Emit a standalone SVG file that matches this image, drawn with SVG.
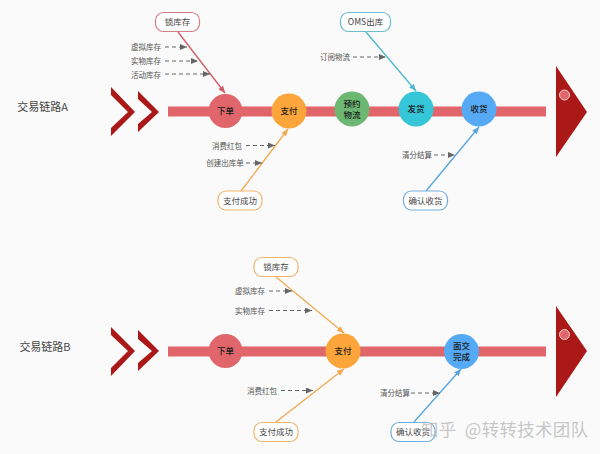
<svg xmlns="http://www.w3.org/2000/svg" width="600" height="454" viewBox="0 0 600 454">
<style>
text{font-family:"Noto Sans CJK SC","Liberation Sans",sans-serif;fill:#444;text-anchor:middle}
.t{font-size:8.500px;fill:#1a1a1a;font-weight:500}
.s{font-size:7.500px;fill:#555}
.b{font-size:8.500px;fill:#444}
.h{font-size:11px;fill:#444}
.box{fill:#fff;stroke-width:1.2}
.dash{stroke:#666;stroke-width:1;stroke-dasharray:4 3;fill:none;marker-end:url(#g)}
.c{fill:none;stroke-width:1.3}
.dark{fill:#ab1818}
.spine{fill:#e0666b}
</style>
<defs>
<marker id="g" markerUnits="userSpaceOnUse" markerWidth="8" markerHeight="6" refX="7" refY="3" orient="auto"><path d="M0 0L7 3L0 6z" fill="#666"/></marker>
<marker id="mr" markerUnits="userSpaceOnUse" markerWidth="8" markerHeight="6" refX="7" refY="3" orient="auto"><path d="M0 0L7 3L0 6z" fill="#cf5a62"/></marker>
<marker id="mo" markerUnits="userSpaceOnUse" markerWidth="8" markerHeight="6" refX="7" refY="3" orient="auto"><path d="M0 0L7 3L0 6z" fill="#f2a94e"/></marker>
<marker id="mc" markerUnits="userSpaceOnUse" markerWidth="8" markerHeight="6" refX="7" refY="3" orient="auto"><path d="M0 0L7 3L0 6z" fill="#4db8d0"/></marker>
<marker id="mb" markerUnits="userSpaceOnUse" markerWidth="8" markerHeight="6" refX="7" refY="3" orient="auto"><path d="M0 0L7 3L0 6z" fill="#55a5e0"/></marker>
</defs>
<rect width="600" height="454" fill="#fafafa"/>
<g id="spines">
<rect class="spine" x="168" y="106.500" width="378" height="10"/>
<rect class="spine" x="168" y="346.500" width="378" height="10"/>
</g>
<g id="connectors">
<path class="c" stroke="#cf5a62" marker-end="url(#mr)" d="M178 32L225 93"/>
<path class="c" stroke="#f2a94e" marker-end="url(#mo)" d="M241 191L288 129"/>
<path class="c" stroke="#4db8d0" marker-end="url(#mc)" d="M366 32L416 91"/>
<path class="c" stroke="#55a5e0" marker-end="url(#mb)" d="M426 191L479 127"/>
<path class="c" stroke="#f2a94e" marker-end="url(#mo)" d="M276 277L344 333"/>
<path class="c" stroke="#f2a94e" marker-end="url(#mo)" d="M276 422L344 369"/>
<path class="c" stroke="#55a5e0" marker-end="url(#mb)" d="M414 422L461 369"/>
<path class="dash" d="M165 47H187"/>
<path class="dash" d="M165 61H198"/>
<path class="dash" d="M165 74H210"/>
<path class="dash" d="M246 145.500H275"/>
<path class="dash" d="M246 163H262"/>
<path class="dash" d="M353 57H386"/>
<path class="dash" d="M434 155H455"/>
<path class="dash" d="M269 291H292"/>
<path class="dash" d="M269 310.500H312"/>
<path class="dash" d="M281 390.500H313"/>
<path class="dash" d="M411 393H440"/>
</g>
<g id="label-a"><text class="h" x="42.500" y="111">交易链路A</text></g>
<g id="label-b"><text class="h" x="45" y="351">交易链路B</text></g>
<g id="chevrons-a">
<polygon class="dark" points="111,87 135,112 111,136 111,128 128,112 111,95"/>
<polygon class="dark" points="138,91 159,112 138,132 138,124 152,112 138,99"/>
</g>
<g id="chevrons-b">
<polygon class="dark" points="111,327 135,351 111,376 111,368 128,351 111,335"/>
<polygon class="dark" points="138,330 159,351 138,371 138,363 152,351 138,339"/>
</g>
<g id="head-a"><polygon class="dark" points="556,66 587,112 556,157"/><circle cx="564.500" cy="95" r="5" fill="#e0666b" stroke="#f4d4d4"/></g>
<g id="head-b"><polygon class="dark" points="556,306 587,351 556,397"/><circle cx="564.500" cy="334.500" r="5" fill="#e0666b" stroke="#f4d4d4"/></g>
<g id="a-xiadan"><circle cx="225.500" cy="111" r="17" fill="#e0666b"/><text class="t" x="225.500" y="114">下单</text></g>
<g id="a-zhifu"><circle cx="289" cy="111" r="17.500" fill="#fba53a"/><text class="t" x="289" y="114">支付</text></g>
<g id="a-yuyue"><circle cx="352" cy="109" r="17.500" fill="#6cb873"/><text class="t" x="352" y="107">预约</text><text class="t" x="352" y="118">物流</text></g>
<g id="a-fahuo"><circle cx="416" cy="109" r="17.500" fill="#35c6d9"/><text class="t" x="416" y="112">发货</text></g>
<g id="a-shouhuo"><circle cx="479" cy="109" r="17.500" fill="#55a9f5"/><text class="t" x="479" y="112">收货</text></g>
<g id="b-xiadan"><circle cx="225.500" cy="351" r="17" fill="#e0666b"/><text class="t" x="225.500" y="354">下单</text></g>
<g id="b-zhifu"><circle cx="343" cy="351" r="17.500" fill="#fba53a"/><text class="t" x="343" y="354">支付</text></g>
<g id="b-mianjiao"><circle cx="461.500" cy="351.500" r="17.500" fill="#55a9f5"/><text class="t" x="461.500" y="349">面交</text><text class="t" x="461.500" y="360">完成</text></g>
<g id="box-a-lock"><rect class="box" x="155.500" y="12.500" width="44" height="19" rx="8" stroke="#d27f88"/><text class="b" x="177.500" y="25">锁库存</text></g>
<g id="box-a-pay"><rect class="box" x="218" y="191" width="44" height="19" rx="8" stroke="#f2b56b"/><text class="b" x="240" y="203.500">支付成功</text></g>
<g id="box-a-oms"><rect class="box" x="340.500" y="12.500" width="50" height="19" rx="8" stroke="#6bbccd"/><text class="b" x="365.500" y="25">OMS出库</text></g>
<g id="box-a-confirm"><rect class="box" x="403.500" y="191" width="44" height="19" rx="8" stroke="#74aedd"/><text class="b" x="425.500" y="203.500">确认收货</text></g>
<g id="box-b-lock"><rect class="box" x="254" y="257.500" width="44" height="19" rx="8" stroke="#f2b56b"/><text class="b" x="276" y="270">锁库存</text></g>
<g id="box-b-pay"><rect class="box" x="254" y="422.500" width="44" height="19" rx="8" stroke="#f2b56b"/><text class="b" x="276" y="435">支付成功</text></g>
<g id="box-b-confirm"><rect class="box" x="391" y="422.500" width="44" height="19" rx="8" stroke="#74aedd"/><text class="b" x="413" y="435">确认收货</text></g>
<g id="labels">
<text class="s" x="146" y="50">虚拟库存</text>
<text class="s" x="146" y="64">实物库存</text>
<text class="s" x="146" y="77.500">活动库存</text>
<text class="s" x="227" y="148.500">消费红包</text>
<text class="s" x="225" y="166">创建出库单</text>
<text class="s" x="335" y="60">订阅物流</text>
<text class="s" x="417" y="158">清分结算</text>
<text class="s" x="250" y="294">虚拟库存</text>
<text class="s" x="250" y="313.500">实物库存</text>
<text class="s" x="262" y="393.500">消费红包</text>
<text class="s" x="395" y="396">清分结算</text>
</g>
<text x="421" y="436" font-size="17.500" letter-spacing=".3" word-spacing="4" style="fill:#b5b5b5;text-anchor:start" fill-opacity=".75">知乎 @转转技术团队</text>
</svg>
